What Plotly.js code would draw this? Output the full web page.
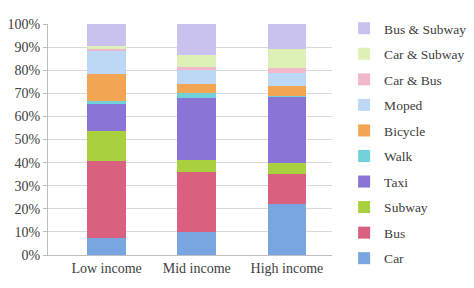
<!DOCTYPE html>
<html><head><meta charset="utf-8">
<script src="https://cdn.plot.ly/plotly-3.0.1.min.js"></script>
<style>html,body{margin:0;padding:0;background:#fff}#chart{width:474px;height:288px}</style>
</head><body><div id="chart"></div>
<script>
const categories = ["Low income", "Mid income", "High income"];
const seriesNames = ["Car", "Bus", "Subway", "Taxi", "Walk", "Bicycle", "Moped", "Car & Bus", "Car & Subway", "Bus & Subway"];
const car        = [7.5, 10, 22];
const bus        = [33, 26, 13];
const subway     = [13, 5, 5];
const taxi       = [12, 27, 28.5];
const walk       = [1, 2, 0.5];
const bicycle    = [12, 4, 4];
const moped      = [10, 6, 6];
const carBus     = [0.5, 1.5, 2];
const carSubway  = [1.5, 5, 8];
const busSubway  = [9.5, 13.5, 11];
const seriesValues = [car, bus, subway, taxi, walk, bicycle, moped, carBus, carSubway, busSubway];
const colors = ["#79a6e0", "#d9607e", "#a9d13f", "#8a74d6", "#6fd2d8", "#f2a654", "#bdd8f5", "#f0b8c9", "#ddf0b6", "#c9c1ee"];
const yTicks = [0,10,20,30,40,50,60,70,80,90,100];
const yTickLabels = yTicks.map(v => v + "%");

const traces = seriesNames.map((name, i) => ({
  type: "bar",
  name: name,
  x: categories,
  y: seriesValues[i],
  legendgroup: "g" + i,
  legendrank: seriesNames.length - i,
  marker: {color: colors[i], line: {width: 0}},
  width: 0.43,
  hoverinfo: "name+y"
}));

const font = {family: "Liberation Serif, DejaVu Serif, serif", size: 14, color: "#404040"};
const legendFont = {family: "Liberation Serif, DejaVu Serif, serif", size: 13.5, color: "#404040"};

const layout = {
  width: 474, height: 288,
  margin: {l: 48, r: 142, t: 24, b: 33, autoexpand: false},
  barmode: "stack",
  paper_bgcolor: "#ffffff",
  plot_bgcolor: "#ffffff",
  font: font,
  showlegend: true,
  legend: {
    xref: "container", yref: "container",
    x: 0.726, xanchor: "left", y: 0.955, yanchor: "top",
    traceorder: "grouped",
    tracegroupgap: 5,
    maxheight: 320,
    font: legendFont,
    itemwidth: 30
  },
  xaxis: {
    range: [-0.65, 2.5],
    showgrid: false,
    showline: true, linecolor: "#bfbfbf", linewidth: 1,
    ticks: "", tickfont: font,
    zeroline: false
  },
  yaxis: {
    range: [0, 100],
    tickvals: yTicks, ticktext: yTickLabels,
    showgrid: true, gridcolor: "#d9d9d9", gridwidth: 1,
    showline: true, linecolor: "#bfbfbf", linewidth: 1,
    ticks: "outside", ticklen: 4, tickcolor: "#bfbfbf",
    tickfont: font, zeroline: false
  }
};

Plotly.newPlot("chart", traces, layout, {displayModeBar: false, staticPlot: true});
</script>
</body></html>
